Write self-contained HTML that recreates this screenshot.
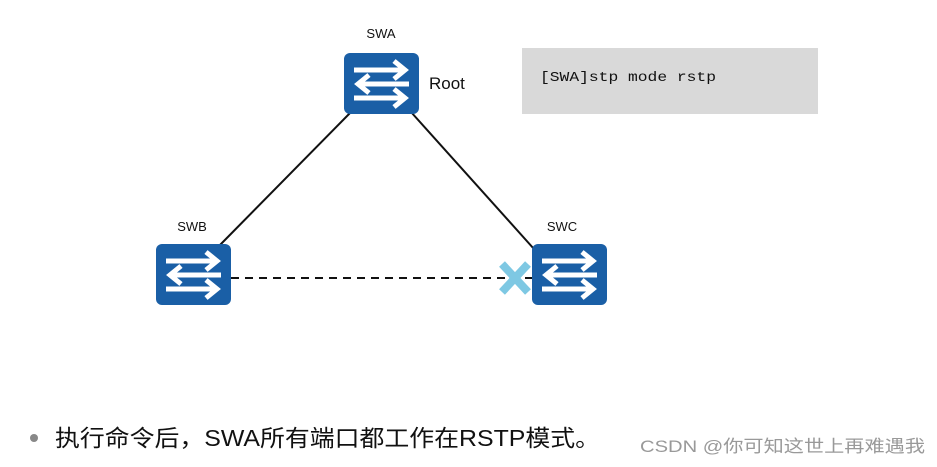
<!DOCTYPE html>
<html><head><meta charset="utf-8"><style>
body{margin:0;background:#fff;width:937px;height:467px;overflow:hidden;position:relative;font-family:"Liberation Sans","Noto Sans CJK SC",sans-serif}
</style></head><body>
<svg width="937" height="467" style="position:absolute;left:0;top:0">
<defs>
<g id="sw">
<rect x="0" y="0" width="75" height="61" rx="6" fill="#1a5fa6"/>
<g stroke="#fff" stroke-width="5" fill="none" stroke-linecap="butt">
<line x1="10" y1="17" x2="60" y2="17"/><polyline points="50,8 61,17 50,26"/>
<line x1="15" y1="31" x2="65" y2="31"/><polyline points="25,22 14,31 25,40"/>
<line x1="10" y1="45" x2="60" y2="45"/><polyline points="50,36 61,45 50,54"/>
</g>
</g>
</defs>
<line x1="351" y1="112" x2="219" y2="246" stroke="#111" stroke-width="2"/>
<line x1="411" y1="112" x2="534" y2="249" stroke="#111" stroke-width="2"/>
<line x1="231" y1="278" x2="532" y2="278" stroke="#111" stroke-width="2" stroke-dasharray="8,6"/>
<use href="#sw" x="344" y="53"/>
<use href="#sw" x="156" y="244"/>
<use href="#sw" x="532" y="244"/>
<g stroke="#7ec8e3" stroke-width="8"><line x1="502" y1="264" x2="528" y2="292"/><line x1="528" y1="264" x2="502" y2="292"/></g>
<rect x="522" y="48" width="296" height="66" fill="#d9d9d9"/>
<text x="540" y="81" font-family="Liberation Mono,monospace" font-size="14" fill="#111" textLength="176" lengthAdjust="spacingAndGlyphs">[SWA]stp mode rstp</text>
<text x="381" y="38" font-size="13" text-anchor="middle" fill="#111">SWA</text>
<text x="429" y="89" font-size="17" fill="#111">Root</text>
<text x="192" y="231" font-size="13" text-anchor="middle" fill="#111">SWB</text>
<text x="562" y="231" font-size="13" text-anchor="middle" fill="#111">SWC</text>
<circle cx="34" cy="438" r="4" fill="#888"/>
<text x="55" y="446" font-size="23" fill="#111" textLength="545" lengthAdjust="spacingAndGlyphs">执行命令后，SWA所有端口都工作在RSTP模式。</text>
<text x="640" y="452" font-size="17" fill="#999" textLength="285" lengthAdjust="spacingAndGlyphs">CSDN @你可知这世上再难遇我</text>
</svg>
</body></html>
